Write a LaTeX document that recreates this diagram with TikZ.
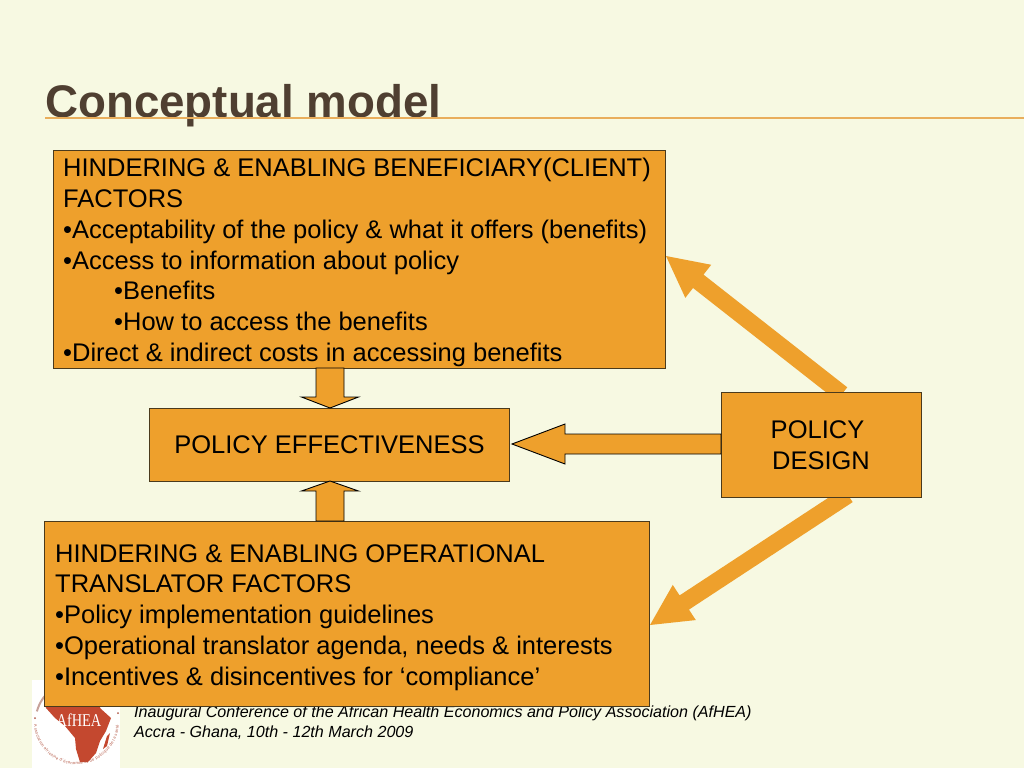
\documentclass[tikz,border=0pt]{standalone}
\usepackage{fontspec}
\setmainfont{Liberation Sans}
\newfontfamily\logofont{Liberation Serif}
\usetikzlibrary{calc, decorations.text}
\definecolor{slidebg}{HTML}{F7F9E2}
\definecolor{boxfill}{HTML}{EEA02C}
\definecolor{boxedge}{HTML}{4A3A1C}
\definecolor{titlebrown}{HTML}{4F3F31}
\definecolor{rulecolor}{HTML}{E9AE5C}
\definecolor{logored}{HTML}{C4482F}
\tikzset{
	factorbox/.style = {draw = boxedge, fill = boxfill, line width = 0.9pt, inner sep = 0pt, anchor = north west},
	boxtext/.style = {anchor = north west, inner sep = 0pt, align = left, text = black, font = \fontsize{25.5}{30.8}\selectfont},
	outlined/.style = {draw = black, fill = boxfill, line width = 0.9pt, line join = miter},
	plainarrow/.style = {fill = boxfill, draw = none}
}
% block arrow: style, from, to, half shaft, half head, head length
\newcommand{\blockarrow}[6]{
	\path [#1] ($(#2)!#4!90:(#3)$) -- ($(#3)!#6!(#2)!#4!-90:(#2)$) -- ($(#3)!#6!(#2)!#5!-90:(#2)$) -- (#3)
		-- ($(#3)!#6!(#2)!#5!90:(#2)$) -- ($(#3)!#6!(#2)!#4!90:(#2)$) -- ($(#2)!#4!-90:(#3)$) -- cycle;
}
\begin{document}
\begin{tikzpicture}[x = 1pt, y = -1pt]
		\useasboundingbox [fill = slidebg] (0, 0) rectangle (1024, 768);
		%%%%%%%%%%%%%
		\node [anchor = base west, inner sep = 0pt, text = titlebrown, font = \fontsize{45.7}{46}\selectfont\bfseries] (title) at (45, 117) {Conceptual model};
		\coordinate (ruleleft) at (45, 118);
		\coordinate (ruleright) at (1024, 118);
		\draw [rulecolor, line width = 1.5pt] (ruleleft) -- (ruleright);
		%%%%%%%%%%%%%
		\node [fill = white, minimum width = 88pt, minimum height = 88pt, inner sep = 0pt, anchor = north west] (logo) at (32, 680) {};
		\fill [logored] (44, 700) -- (100, 700) -- (100, 708) -- (111, 718) -- (106, 731) -- (100, 741) -- (96, 753) -- (88, 762) -- (80, 762) -- (76, 749) -- (75, 738) -- (65, 726) -- (55, 718) -- (46, 708) -- cycle;
		\fill [logored] (107, 736) -- (110, 733) -- (107, 746) -- (103, 749) -- cycle;
		\draw [logored!50!gray!60, line width = 2pt] (76.5, 722) ++(-165:41) arc (-165:-125:41);
		\path [decorate, decoration = {text along path, text align = {fit to path}, text color = logored!75!gray, text = {|\fontsize{4}{5}\selectfont|Association africaine d'économie et de politique de la santé}}] (76.5, 722) ++(176:42.5) arc (176:4:42.5);
		\fill [logored!70!gray] (35, 718) circle (1pt) (118, 713) circle (1pt);
		\node [text = white, font = \fontsize{18}{18}\logofont\selectfont, inner sep = 0pt, xscale = 0.8] (logotext) at (79, 720) {AfHEA};
		%%%%%%%%%%%%%
		\node [anchor = base west, inner sep = 0pt, font = \fontsize{16.1}{16}\selectfont\itshape] (conference) at (134, 717) {Inaugural Conference of the African Health Economics and Policy Association (AfHEA)};
		\node [anchor = base west, inner sep = 0pt, font = \fontsize{16.1}{16}\selectfont\itshape] (venue) at (134, 737) {Accra - Ghana, 10th - 12th March 2009};
		%%%%%%%%%%%%%
		\coordinate (clienttip) at (666, 256);
		\coordinate (clientfoot) at (842, 394);
		\coordinate (translatortip) at (650, 625);
		\coordinate (translatorfoot) at (848, 495);
		\blockarrow{plainarrow}{clientfoot}{clienttip}{8.5pt}{21pt}{41pt}
		\blockarrow{plainarrow}{translatorfoot}{translatortip}{8.5pt}{21pt}{41pt}
		%%%%%%%%%%%%%
		\node [factorbox, minimum width = 612pt, minimum height = 218pt] (client) at (53, 150) {};
		\node [factorbox, minimum width = 360pt, minimum height = 73pt] (effect) at (149, 408) {};
		\node [factorbox, minimum width = 200pt, minimum height = 105pt] (design) at (721, 392) {};
		\node [factorbox, minimum width = 605pt, minimum height = 185pt] (translator) at (44, 521) {};
		%%%%%%%%%%%%%
		\coordinate (downfoot) at (330, 368);
		\coordinate (downtip) at (330, 408);
		\coordinate (upfoot) at (330, 521);
		\coordinate (uptip) at (330, 481);
		\coordinate (lefttip) at (512, 444);
		\coordinate (leftfoot) at (721, 444);
		\blockarrow{outlined}{downfoot}{downtip}{14pt}{28.5pt}{11pt}
		\blockarrow{outlined}{upfoot}{uptip}{14pt}{28.5pt}{10pt}
		\blockarrow{outlined}{leftfoot}{lefttip}{10pt}{20pt}{53pt}
		%%%%%%%%%%%%%
		\node [boxtext] (clienttext) at (63, 158) {HINDERING \& ENABLING BENEFICIARY(CLIENT)\\FACTORS\\•Acceptability of the policy \& what it offers (benefits)\\•Access to information about policy\\\hspace{51pt}•Benefits\\\hspace{51pt}•How to access the benefits\\•Direct \& indirect costs in accessing benefits};
		\node [font = \fontsize{25.5}{30.8}\selectfont, inner sep = 0pt] (effecttext) at (329.5, 445) {POLICY EFFECTIVENESS};
		\node [font = \fontsize{25.5}{30.8}\selectfont, inner sep = 0pt, align = center] (designtext) at (821, 445) {POLICY\kern7pt\\DESIGN};
		\node [boxtext] (translatortext) at (55, 544) {HINDERING \& ENABLING OPERATIONAL\\TRANSLATOR FACTORS\\•Policy implementation guidelines\\•Operational translator agenda, needs \& interests\\•Incentives \& disincentives for ‘compliance’};
\end{tikzpicture}
\end{document}
